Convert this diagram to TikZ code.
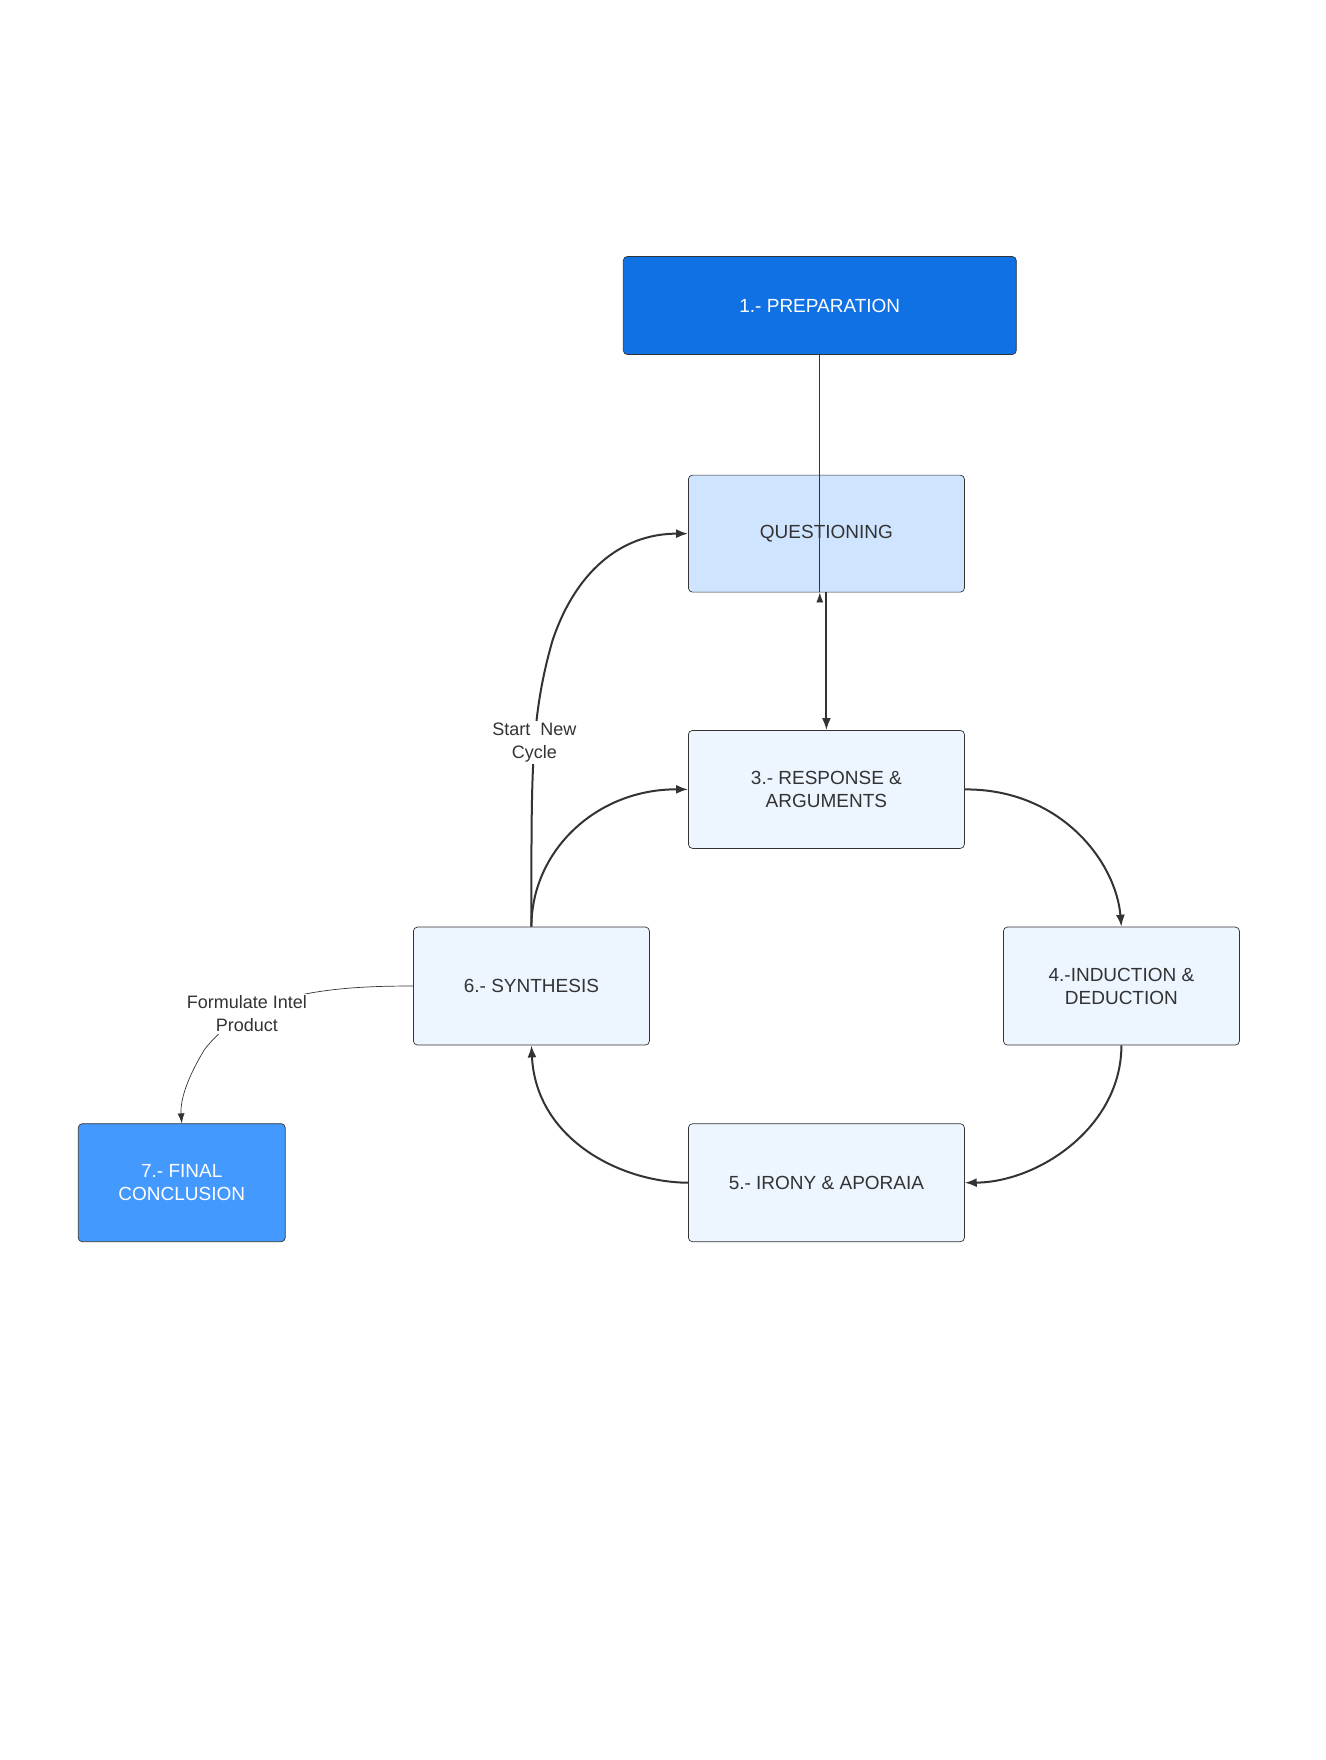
\documentclass[tikz,border=0pt]{standalone}
\usepackage{fontspec}
\setmainfont{Liberation Sans}
\usetikzlibrary{arrows.meta}
\definecolor{dark}{HTML}{1071E5}
\definecolor{mid}{HTML}{4499FF}
\definecolor{pale}{HTML}{CFE4FF}
\definecolor{paler}{HTML}{EDF5FF}
\definecolor{txt}{HTML}{333333}
\begin{document}
\begin{tikzpicture}[x=1.105pt,y=-1.105pt,
  box/.style={draw=txt,line width=0.7pt,rounded corners=4pt,align=center,font=\fontsize{19}{23}\selectfont,text=txt,inner sep=0pt},
  thin/.style={draw=txt,line width=0.7pt,-{Latex[length=10pt,width=7pt]}},
  thick/.style={draw=txt,line width=2pt,-{Latex[length=12pt,width=9pt]}},
  lab/.style={fill=white,font=\fontsize{18}{23}\selectfont,text=txt,align=center,inner sep=2pt}]
\useasboundingbox (0,0) rectangle (1200,1593);
\node[box,fill=dark,text=white,minimum width=393pt,minimum height=98pt] (p) at (742,276.5) {1.- PREPARATION};
\node[box,fill=pale,minimum width=276pt,minimum height=117pt] (q) at (748,483) {QUESTIONING};
\node[box,fill=paler,minimum width=276pt,minimum height=118pt] (r) at (748,714.5) {3.- RESPONSE \&\\ ARGUMENTS};
\node[box,fill=paler,minimum width=236pt,minimum height=118pt] (i) at (1015,892.5) {4.-INDUCTION \&\\ DEDUCTION};
\node[box,fill=paler,minimum width=276pt,minimum height=118pt] (y) at (748,1070.5) {5.- IRONY \& APORAIA};
\node[box,fill=paler,minimum width=236pt,minimum height=118pt] (s) at (481,892.5) {6.- SYNTHESIS};
\node[box,fill=mid,text=white,minimum width=207pt,minimum height=118pt] (f) at (164.5,1070.5) {7.- FINAL\\ CONCLUSION};
\draw[thin] (p.south) -- (q.south -| p.south) ++(0,0) coordinate (dummy);
\draw[thick] (q.south) -- (r.north);
\draw[thick] (r.east) .. controls (960,714) and (1010,780) .. (i.north);
\draw[thick] (i.south) .. controls (1015,1020) and (940,1070) .. (y.east);
\draw[thick] (y.west) .. controls (560,1070) and (485,1030) .. (s.south);
\draw[thick] (s.north) .. controls (481,770) and (540,714) .. (r.west);
\draw[thick] (s.north) .. controls (481,700) and (480,650) .. node[lab,pos=0.55]{Start\ \ New\\ Cycle} (500,580) .. controls (520,520) and (560,483) .. (q.west);
\draw[thin] (s.west) .. controls (280,892) and (220,905) .. node[lab,pos=0.7]{Formulate Intel\\ Product} (185,950) .. controls (170,975) and (163,995) .. (f.north);
\end{tikzpicture}
\end{document}
